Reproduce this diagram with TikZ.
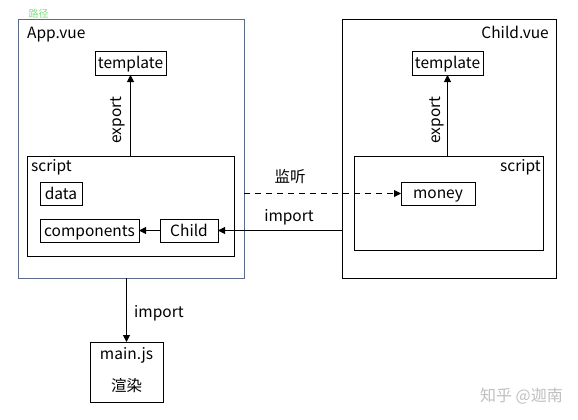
\documentclass[tikz,border=0pt]{standalone}
\usepackage{fontspec}
\setmainfont{Noto Sans CJK SC}
\usetikzlibrary{arrows.meta}
\definecolor{appblue}{HTML}{5B6B8C}
\definecolor{pathgreen}{HTML}{7FE07F}
\definecolor{wm}{HTML}{C0C0C0}
\begin{document}
\begin{tikzpicture}[x=1pt,y=-1pt,
  box/.style={draw=black,line width=1pt,inner sep=0pt,outer sep=0pt},
  lbl/.style={font=\fontsize{15.5}{17}\selectfont,inner sep=0pt,anchor=base},
  arr/.style={line width=1pt,-{Triangle[length=7pt,width=7pt]}},
]
\useasboundingbox (0,0) rectangle (578,420);
\fill[white] (0,0) rectangle (578,420);
% App.vue
\node[box,draw=appblue,minimum width=226pt,minimum height=258pt] (app) at (131,149) {};
\node[lbl,anchor=base west] (applbl) at (27,38) {App.vue};
\node[font=\fontsize{10}{11}\selectfont,text=pathgreen,inner sep=0pt] (path) at (38.5,14) {路径};
\node[box,minimum width=71pt,minimum height=23pt] (tplAbox) at (130.5,63.5) {};
\node[lbl] (tplA) at (130.5,68.5) {template};
\node[box,minimum width=207pt,minimum height=100pt] (scrAbox) at (130.5,206) {};
\node[lbl,anchor=base west] (scrA) at (31,171.5) {script};
\node[box,minimum width=42pt,minimum height=23pt] (databox) at (61,193.5) {};
\node[lbl] (data) at (61,199) {data};
\node[box,minimum width=99pt,minimum height=23pt] (compbox) at (89.5,230.5) {};
\node[lbl] (comp) at (89.5,236) {components};
\node[box,minimum width=58pt,minimum height=23pt] (childbox) at (189,230.5) {};
\node[lbl] (child) at (189,236) {Child};
\draw[arr] (scrAbox.north) -- (tplAbox.south);
\node[lbl,rotate=90] (expA) at (121,120) {export};
\draw[arr] (childbox.west) -- (compbox.east);
% Child.vue
\node[box,minimum width=214pt,minimum height=258pt] (cv) at (449,149) {};
\node[lbl,anchor=base east] (cvlbl) at (549,39) {Child.vue};
\node[box,minimum width=71pt,minimum height=23pt] (tplBbox) at (447.5,63.5) {};
\node[lbl] (tplB) at (447.5,68) {template};
\node[box,minimum width=189pt,minimum height=94pt] (scrBbox) at (448.5,203) {};
\node[lbl,anchor=base east] (scrB) at (541,171.5) {script};
\node[box,minimum width=74pt,minimum height=23pt] (moneybox) at (438,193.5) {};
\node[lbl] (money) at (438,198.5) {money};
\draw[arr] (scrBbox.north -| tplBbox.south) -- (tplBbox.south);
\node[lbl,rotate=90] (expB) at (440.5,120) {export};
% cross arrows
\draw[arr,dash pattern=on 6pt off 5pt] (app.east |- moneybox.west) -- (moneybox.west);
\node[lbl] (listen) at (290,182.5) {监听};
\draw[arr] (cv.west |- childbox.east) -- (childbox.east);
\node[lbl] (impB) at (289,221) {import};
% main.js
\node[box,minimum width=73pt,minimum height=60pt] (mainbox) at (126.5,372) {};
\node[lbl] (mainjs) at (126.5,359) {main.js};
\node[lbl] (render) at (126.5,391) {渲染};
\draw[arr] (app.south -| mainbox.north) -- (mainbox.north);
\node[lbl,anchor=base west] (impM) at (134,317.5) {import};
% watermark
\node[font=\fontsize{16}{18}\selectfont,inner sep=0pt,text=wm,anchor=base east] (wmk) at (563,401) {知乎 @迦南};
\end{tikzpicture}
\end{document}
